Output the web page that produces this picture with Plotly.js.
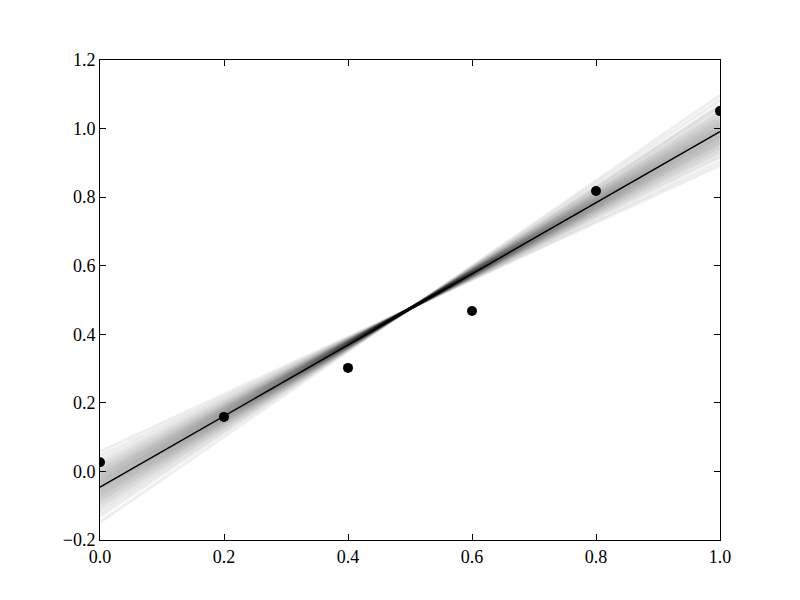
<!DOCTYPE html>
<html>
<head>
<meta charset="utf-8">
<script src="https://cdn.plot.ly/plotly-3.0.1.min.js"></script>
<style>html,body{margin:0;padding:0;background:#fff;}#chart{width:800px;height:600px;}</style>
</head>
<body>
<div id="chart"></div>
<script>
// Observed data points
var pointX = [0.0, 0.2, 0.4, 0.6, 0.8, 1.0];
var pointY = [0.027, 0.159, 0.302, 0.468, 0.818, 1.051];

// Best-fit line (values at x = 0 and x = 1)
var fitX = [0, 1];
var fitY = [-0.046, 0.991];

// Sampled lines of the fan: value at x = 0 and value at x = 1
var fanStart = [-0.148, -0.131, -0.121, -0.113, -0.106, -0.101, -0.096, -0.091, -0.087, -0.083,
                -0.080, -0.077, -0.073, -0.070, -0.068, -0.065, -0.062, -0.060, -0.057, -0.055,
                -0.052, -0.050, -0.048, -0.046, -0.043, -0.041, -0.039, -0.036, -0.034, -0.031,
                -0.029, -0.027, -0.024, -0.022, -0.019, -0.017, -0.014, -0.011, -0.009, -0.006,
                -0.003, 0.001, 0.004, 0.008, 0.012, 0.017, 0.022, 0.028, 0.036, 0.046, 0.058];
var fanEnd   = [1.097, 1.083, 1.069, 1.064, 1.057, 1.049, 1.047, 1.040, 1.038, 1.032,
                1.031, 1.026, 1.024, 1.019, 1.019, 1.014, 1.013, 1.009, 1.008, 1.004,
                1.003, 0.999, 0.999, 0.995, 0.994, 0.990, 0.990, 0.985, 0.985, 0.980,
                0.980, 0.976, 0.975, 0.971, 0.970, 0.966, 0.965, 0.960, 0.960, 0.955,
                0.954, 0.948, 0.947, 0.941, 0.939, 0.932, 0.929, 0.921, 0.915, 0.903, 0.893];

var traces = [];
for (var i = 0; i < fanStart.length; i++) {
  traces.push({
    x: fitX, y: [fanStart[i], fanEnd[i]],
    mode: 'lines', type: 'scatter', hoverinfo: 'skip', showlegend: false,
    line: {color: 'rgba(0,0,0,0.065)', width: 3}
  });
}
traces.push({
  x: fitX, y: fitY, mode: 'lines', type: 'scatter', showlegend: false,
  line: {color: '#000', width: 1.5}
});
traces.push({
  x: pointX, y: pointY, mode: 'markers', type: 'scatter', showlegend: false,
  marker: {color: '#000', size: 10}
});

var axisCommon = {
  showgrid: false, zeroline: false, showline: true, mirror: 'ticks',
  linecolor: '#000', linewidth: 1, ticks: 'inside', ticklen: 6, tickwidth: 1,
  tickcolor: '#000', tickformat: '.1f', dtick: 0.2,
  tickfont: {family: '"Liberation Serif", "DejaVu Serif", serif', size: 18, color: '#000'}
};

var layout = {
  width: 800, height: 600,
  margin: {l: 100, r: 80, t: 60, b: 60},
  paper_bgcolor: '#fff', plot_bgcolor: '#fff',
  xaxis: Object.assign({}, axisCommon, {range: [0, 1], tick0: 0}),
  yaxis: Object.assign({}, axisCommon, {range: [-0.2, 1.2], tick0: -0.2})
};

Plotly.newPlot('chart', traces, layout, {staticPlot: true, displayModeBar: false});
</script>
</body>
</html>
